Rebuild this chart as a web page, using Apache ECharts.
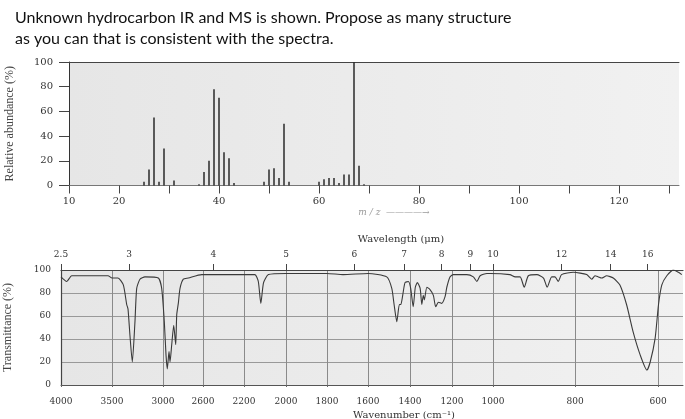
<!DOCTYPE html>
<html>
<head>
<meta charset="utf-8">
<script src="https://cdn.jsdelivr.net/npm/echarts@6/dist/echarts.min.js"></script>
<style>
html, body { margin: 0; padding: 0; background: #fff; }
#main { width: 685px; height: 419px; }
</style>
</head>
<body>
<div id="main"></div>
<script>
// mass spectrum
var msMz = [25, 26, 27, 28, 29, 31, 36, 37, 38, 39, 40, 41, 42, 43, 49, 50, 51, 52, 53, 54, 60, 61, 62, 63, 64, 65, 66, 67, 68, 69];
var msAbund = [3, 13, 55, 3, 30, 4, 1, 11, 20, 78, 71, 27, 22, 2, 3, 13, 14, 6, 50, 3, 3, 5, 6, 6, 2, 9, 9, 100, 16, 1];
var msTicks = [10, 20, 30, 40, 50, 60, 70, 80, 90, 100, 110, 120, 130];
var msLabels = [10, 20, 40, 60, 80, 100, 120];

// IR spectrum (wavenumber cm-1 / transmittance %)
var irWavenumber = [4000, 3944, 3895, 3716, 3539, 3500, 3441, 3389, 3356, 3343, 3324, 3301, 3275, 3258, 3226, 3177, 3046, 3013,
  2987, 2970, 2957, 2940, 2930, 2913, 2893, 2873, 2863, 2847, 2830, 2797, 2747, 2613, 2434, 2200, 2148, 2132, 2120, 2107, 2084,
  2000, 1932, 1800, 1722, 1600, 1511, 1487, 1476, 1463, 1451, 1444, 1435, 1424, 1408, 1397, 1385, 1375, 1365, 1352, 1344, 1337,
  1332, 1320, 1305, 1289, 1278, 1265, 1249, 1233, 1225, 1210, 1194, 1128, 1096, 1079, 1063, 1030, 1015, 959, 946, 934, 924, 914,
  893, 877, 868, 857, 849, 841, 833, 804, 772, 760, 752, 744, 736, 724, 708, 692, 676, 660, 643, 627, 619, 607, 599, 591, 579,
  563, 551, 543];
var irTransmittance = [94, 90, 95, 95, 95, 93, 93, 87, 70, 66, 43, 20, 55, 84, 92, 94, 93, 84,
  55, 26, 14, 29, 20, 35, 52, 35, 61, 71, 84, 92, 93, 96, 96, 96, 96, 90, 71, 89, 96,
  97, 97, 97, 96, 97, 94, 84, 70, 55, 70, 70, 78, 89, 90, 84, 68, 85, 89, 84, 70, 78,
  74, 85, 83, 78, 68, 72, 71, 77, 85, 94, 96, 96, 94, 90, 95, 97, 97, 96, 94, 94, 85, 95,
  96, 93, 85, 94, 94, 90, 96, 98, 96, 92, 95, 94, 93, 95, 93, 87, 70, 46, 26, 13, 20, 41, 70, 87, 95,
  100, 98, 96];
var irWnTicks = [4000, 3500, 3000, 2600, 2200, 2000, 1800, 1600, 1400, 1200, 1000, 800, 600];
var irUmTicks = [2.5, 3, 4, 5, 6, 7, 8, 9, 10, 12, 14, 16];
var pctTicks = [0, 20, 40, 60, 80, 100];

// the printed wavenumber scale is piecewise: distance along the paper for each gridline
var irGridPos = [0, 51, 102, 142, 183, 225, 266, 307, 349, 391, 432, 514, 597];
function irPos(wn) {
  var n = irWnTicks.length;
  if (wn >= irWnTicks[0]) return irGridPos[0];
  for (var i = 0; i < n - 1; i++) {
    var a = irWnTicks[i], b = irWnTicks[i + 1];
    if (wn <= a && wn >= b) {
      return irGridPos[i] + (a - wn) / (a - b) * (irGridPos[i + 1] - irGridPos[i]);
    }
  }
  var s = (irGridPos[n - 1] - irGridPos[n - 2]) / (irWnTicks[n - 2] - irWnTicks[n - 1]);
  return irGridPos[n - 1] + (irWnTicks[n - 1] - wn) * s;
}
var irMinWn = 540;

var serif = 'DejaVu Serif';
var msData = msMz.map(function (m, i) { return [m, msAbund[i]]; });
var irData = irWavenumber.map(function (w, i) { return [irPos(w), irTransmittance[i]]; });
var irWnPos = irWnTicks.map(irPos);
var irUmPos = irUmTicks.map(function (u) { return irPos(10000 / u); });

function nearestLabel(v, poss, labels) {
  var best = 0;
  for (var i = 1; i < poss.length; i++) {
    if (Math.abs(poss[i] - v) < Math.abs(poss[best] - v)) best = i;
  }
  return String(labels[best]);
}

var bg = new echarts.graphic.LinearGradient(0, 0, 1, 0, [
  { offset: 0, color: '#e6e6e6' },
  { offset: 1, color: '#f1f1f1' }
]);

var chart = echarts.init(document.getElementById('main'));
chart.setOption({
  animation: false,
  backgroundColor: '#fff',
  title: [{
    text: 'Unknown hydrocarbon IR and MS is shown. Propose as many structure\nas you can that is consistent with the spectra.',
    left: 10, top: 2,
    textStyle: { fontFamily: 'Lato', fontSize: 16, fontWeight: 'normal', lineHeight: 21, color: '#111' }
  }],
  grid: [
    { left: 69, right: 6, top: 62, bottom: 233.5, show: true, backgroundColor: bg, borderWidth: 0, outerBoundsMode: 'none' },
    { left: 61, right: 2, top: 270, bottom: 34, show: true, backgroundColor: bg, borderWidth: 0, outerBoundsMode: 'none' }
  ],
  xAxis: [
    {
      gridIndex: 0, type: 'value', min: 10, max: 132,
      name: 'm / z  ————→', nameLocation: 'middle', nameGap: 23,
      nameTextStyle: { fontFamily: serif, fontStyle: 'italic', fontSize: 9, color: '#999', padding: [0, 0, 0, 40] },
      axisLine: { lineStyle: { color: '#777', width: 1 } },
      axisTick: { customValues: msTicks, length: 8, lineStyle: { color: '#444' } },
      axisLabel: { customValues: msLabels, margin: 11, fontFamily: serif, fontSize: 10, color: '#333' },
      splitLine: { show: false }
    },
    {
      gridIndex: 0, type: 'value', min: 10, max: 132, position: 'top',
      axisLine: { lineStyle: { color: '#444', width: 1 } },
      axisTick: { show: false }, axisLabel: { show: false }, splitLine: { show: false }
    },
    {
      gridIndex: 1, type: 'value', min: 0, max: irPos(irMinWn),
      name: 'Wavenumber (cm\u207B\u00B9)', nameLocation: 'middle', nameGap: 25,
      nameTextStyle: { fontFamily: serif, fontSize: 10, color: '#333', padding: [0, 0, 0, 64] },
      axisLine: { lineStyle: { color: '#555', width: 1 } },
      axisTick: { customValues: irWnPos, show: true, length: 2, lineStyle: { color: '#666' } },
      axisLabel: {
        customValues: irWnPos, margin: 12, fontFamily: serif, fontSize: 9, color: '#333',
        formatter: function (v) { return nearestLabel(v, irWnPos, irWnTicks); }
      },
      splitLine: { show: true, lineStyle: { color: '#8a8a8a', width: 1 } }
    },
    {
      gridIndex: 1, type: 'value', min: 0, max: irPos(irMinWn), position: 'top',
      name: 'Wavelength (\u03BCm)', nameLocation: 'middle', nameGap: 26,
      nameTextStyle: { fontFamily: serif, fontSize: 10, color: '#333', padding: [0, 0, 0, 58] },
      axisLine: { lineStyle: { color: '#444', width: 1.2 } },
      axisTick: { customValues: irUmPos, length: 6, lineStyle: { color: '#444' } },
      axisLabel: {
        customValues: irUmPos, margin: 11, fontFamily: serif, fontSize: 9, color: '#333',
        formatter: function (v) { return nearestLabel(v, irUmPos, irUmTicks); }
      },
      splitLine: { show: false }
    }
  ],
  yAxis: [
    {
      gridIndex: 0, type: 'value', min: 0, max: 100, interval: 20,
      name: 'Relative abundance (%)', nameLocation: 'middle', nameGap: 53,
      nameTextStyle: { fontFamily: 'Liberation Serif', fontSize: 12, color: '#444' },
      axisLine: { show: true, lineStyle: { color: '#333', width: 1 } },
      axisTick: { show: true, length: 10, lineStyle: { color: '#444' } },
      axisLabel: { margin: 16, fontFamily: serif, fontSize: 10, color: '#333' },
      splitLine: { show: false }
    },
    {
      gridIndex: 1, type: 'value', min: 0, max: 100, interval: 20,
      name: 'Transmittance (%)', nameLocation: 'middle', nameGap: 47,
      nameTextStyle: { fontFamily: 'Liberation Serif', fontSize: 12, color: '#444' },
      axisLine: { show: true, lineStyle: { color: '#444', width: 1.2 } },
      axisTick: { show: false },
      axisLabel: { margin: 10, fontFamily: serif, fontSize: 9, color: '#333' },
      splitLine: { show: true, lineStyle: { color: '#999', width: 1 } }
    }
  ],
  series: [
    {
      type: 'bar', xAxisIndex: 0, yAxisIndex: 0, data: msData,
      barWidth: 1.5, itemStyle: { color: '#2a2a2a' }, silent: true
    },
    {
      type: 'line', xAxisIndex: 2, yAxisIndex: 1, data: irData,
      showSymbol: false, smooth: 0.2, lineStyle: { color: '#3a3a3a', width: 1.1 }, silent: true
    }
  ]
});
</script>
</body>
</html>
